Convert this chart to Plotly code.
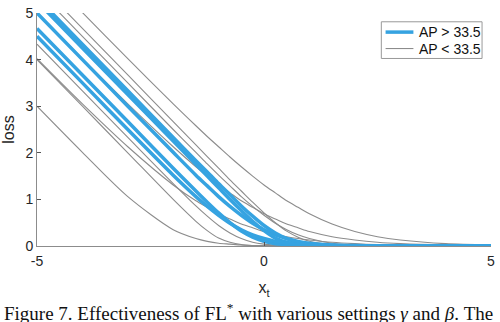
import plotly.graph_objects as go

# Sample positions along x_t shared by every curve
x_t = [-5, -4, -3, -2, -1.5, -1.25, -1, -0.75, -0.5, -0.25, 0, 0.25, 0.5, 0.75, 1, 1.5, 2, 2.5, 3, 4, 5]

# Settings with AP < 33.5 (thin grey curves)
gray_a = [5.01, 4.02, 3.05, 2.13, 1.70, 1.50, 1.31, 1.14, 0.97, 0.83, 0.69, 0.58, 0.47, 0.39, 0.31, 0.20, 0.13, 0.08, 0.05, 0.02, 0.01]
gray_b = [5.50, 4.50, 3.50, 2.50, 2.01, 1.76, 1.52, 1.29, 1.06, 0.85, 0.66, 0.49, 0.35, 0.24, 0.16, 0.06, 0.02, 0.01, 0.00, 0.00, 0.00]
gray_c = [5.67, 4.67, 3.67, 2.67, 2.17, 1.92, 1.67, 1.42, 1.18, 0.94, 0.71, 0.50, 0.32, 0.19, 0.10, 0.03, 0.01, 0.00, 0.00, 0.00, 0.00]
gray_d = [6.00, 5.01, 4.02, 3.05, 2.58, 2.35, 2.13, 1.91, 1.70, 1.50, 1.31, 1.14, 0.97, 0.83, 0.69, 0.47, 0.31, 0.20, 0.13, 0.05, 0.02]
gray_e = [4.33, 3.33, 2.33, 1.34, 0.86, 0.64, 0.44, 0.28, 0.16, 0.08, 0.04, 0.02, 0.01, 0.00, 0.00, 0.00, 0.00, 0.00, 0.00, 0.00, 0.00]
gray_f = [4.00, 3.00, 2.00, 1.00, 0.53, 0.33, 0.17, 0.08, 0.03, 0.01, 0.00, 0.00, 0.00, 0.00, 0.00, 0.00, 0.00, 0.00, 0.00, 0.00, 0.00]
gray_g = [4.02, 3.05, 2.13, 1.31, 0.97, 0.83, 0.69, 0.58, 0.47, 0.39, 0.31, 0.25, 0.20, 0.16, 0.13, 0.08, 0.05, 0.03, 0.02, 0.01, 0.00]
gray_h = [3.00, 2.01, 1.06, 0.35, 0.16, 0.10, 0.06, 0.04, 0.02, 0.01, 0.01, 0.01, 0.00, 0.00, 0.00, 0.00, 0.00, 0.00, 0.00, 0.00, 0.00]

# Settings with AP > 33.5 (thick blue curves)
blue_a = [5.00, 4.00, 3.00, 2.01, 1.52, 1.29, 1.06, 0.85, 0.66, 0.49, 0.35, 0.24, 0.16, 0.10, 0.06, 0.02, 0.01, 0.00, 0.00, 0.00, 0.00]
blue_b = [5.25, 4.25, 3.25, 2.25, 1.75, 1.50, 1.25, 1.00, 0.76, 0.53, 0.33, 0.17, 0.08, 0.03, 0.01, 0.00, 0.00, 0.00, 0.00, 0.00, 0.00]
blue_c = [5.33, 4.33, 3.33, 2.33, 1.83, 1.59, 1.34, 1.10, 0.86, 0.64, 0.44, 0.28, 0.16, 0.08, 0.04, 0.01, 0.00, 0.00, 0.00, 0.00, 0.00]
blue_d = [4.67, 3.67, 2.67, 1.67, 1.18, 0.94, 0.71, 0.50, 0.32, 0.19, 0.10, 0.05, 0.03, 0.01, 0.01, 0.00, 0.00, 0.00, 0.00, 0.00, 0.00]
blue_e = [4.50, 3.50, 2.50, 1.52, 1.06, 0.85, 0.66, 0.49, 0.35, 0.24, 0.16, 0.10, 0.06, 0.04, 0.02, 0.01, 0.00, 0.00, 0.00, 0.00, 0.00]

legend_labels = ["AP > 33.5", "AP < 33.5"]
x_ticks = [-5, 0, 5]
y_ticks = [0, 1, 2, 3, 4, 5]

BLUE = "#36a3e1"
GRAY = "#8c8c8c"

fig = go.Figure()
for ys in (gray_a, gray_b, gray_c, gray_d, gray_e, gray_f, gray_g, gray_h):
    fig.add_trace(go.Scatter(x=x_t, y=ys, mode="lines", showlegend=False, hoverinfo="skip",
                             line=dict(color=GRAY, width=1.1, shape="spline", smoothing=0.8)))
for ys in (blue_a, blue_b, blue_c, blue_d, blue_e):
    fig.add_trace(go.Scatter(x=x_t, y=ys, mode="lines", showlegend=False, hoverinfo="skip",
                             line=dict(color=BLUE, width=3.5, shape="spline", smoothing=0.8)))

fig.update_layout(
    width=500, height=322, margin=dict(l=36.5, r=7, t=5.2, b=75.5),
    plot_bgcolor="white", paper_bgcolor="white",
    font=dict(family="Liberation Sans, Arial", size=14, color="#262626"),
    showlegend=False,
    xaxis=dict(range=[-5, 5], tickvals=x_ticks, ticktext=[str(v) for v in x_ticks], ticks="inside",
               ticklen=4, tickcolor="#555", showline=True, linecolor=GRAY, linewidth=1, showgrid=False,
               zeroline=False, ticklabelstandoff=2, ticklabeloverflow="allow",
               title=dict(text="x<sub>t</sub>", font=dict(size=16), standoff=14)),
    yaxis=dict(range=[0, 5], tickvals=y_ticks, ticks="inside", ticklen=4, tickcolor="#555",
               showline=True, linecolor=GRAY, linewidth=1, showgrid=False, zeroline=False,
               ticklabeloverflow="allow",
               title=dict(text="loss", font=dict(size=16), standoff=6)),
)

# Boxed legend in the upper right corner
fig.add_shape(type="rect", xref="paper", yref="paper", x0=0.7584, x1=0.9803, y0=0.8048, y1=0.9623,
              line=dict(color="#999999", width=1), fillcolor="white", layer="above")
for (ky, col, w), label in zip(((0.918, BLUE, 3.5), (0.8475, GRAY, 1.1)), legend_labels):
    fig.add_shape(type="line", xref="paper", yref="paper", x0=0.7678, x1=0.8291, y0=ky, y1=ky,
                  line=dict(color=col, width=w), layer="above")
    fig.add_annotation(xref="paper", yref="paper", x=0.8379, y=ky, xanchor="left", yanchor="middle",
                       showarrow=False, text=label, font=dict(size=14, color="#111"))

# Caption line under the chart
fig.add_annotation(xref="paper", yref="paper", x=-0.076, y=-0.285, xanchor="left", yanchor="middle",
                   showarrow=False, font=dict(family="Liberation Serif", size=19, color="#111"),
                   text="Figure 7. Effectiveness of FL<sup>*</sup> with various settings <i>γ</i> and <i>β</i>. The")

fig.write_html("out.html")
